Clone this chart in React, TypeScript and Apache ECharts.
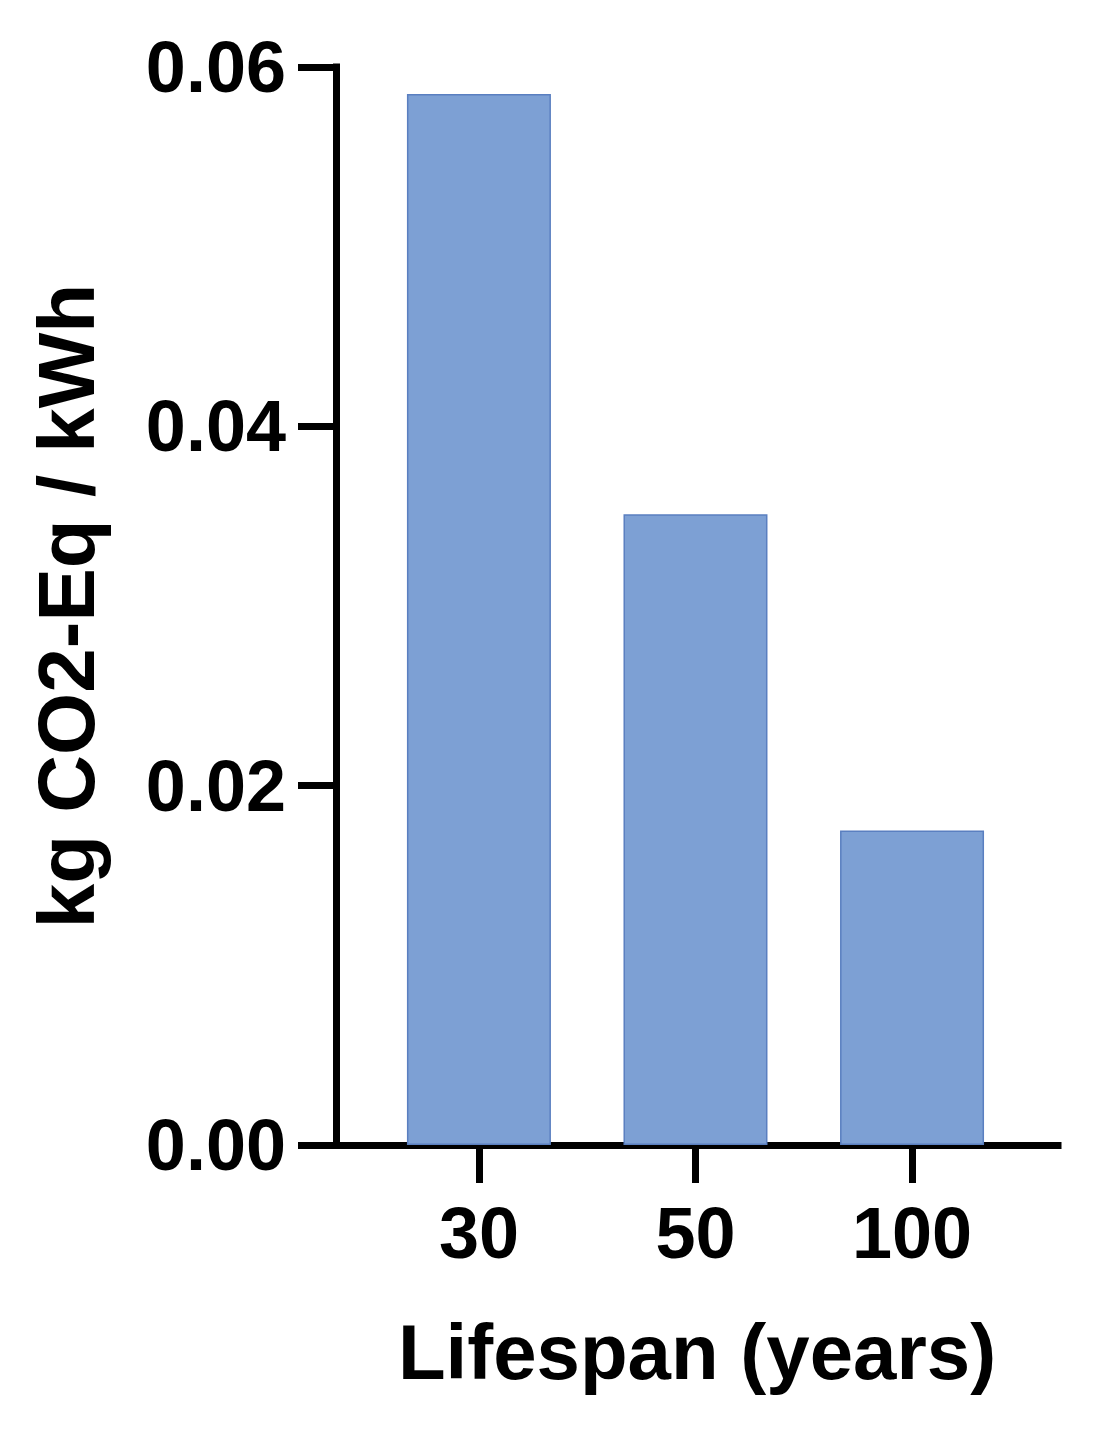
import React, { useEffect, useRef } from "react";
import * as echarts from "echarts";

const categories = ["30", "50", "100"];
const values = [0.0585, 0.0351, 0.0175];
const yTicks = [0, 0.02, 0.04, 0.06];
const xTitle = "Lifespan (years)";
const yTitle = "kg CO2-Eq / kWh";

const FONT = "'Liberation Sans', Arial, sans-serif";

export default function App() {
  const ref = useRef<HTMLDivElement>(null);
  useEffect(() => {
    document.body.style.margin = "0";
    const chart = echarts.init(ref.current!, null, { renderer: "svg" });
    const positions = categories.map((_, i) => i);
    chart.setOption({
      animation: false,
      backgroundColor: "#ffffff",
      grid: { left: 336, top: 67, right: 1098 - 1058, bottom: 1446 - 1145, containLabel: false },
      xAxis: {
        type: "value",
        min: -0.66,
        max: 2.674,
        splitLine: { show: false },
        axisLine: { show: true, onZero: false, lineStyle: { color: "#000", width: 7, cap: "square" } },
        axisTick: { show: true, length: 38, customValues: positions, lineStyle: { color: "#000", width: 7 } },
        axisLabel: {
          customValues: positions,
          formatter: (v: number) => categories[Math.round(v)] ?? "",
          margin: 52,
          fontSize: 72,
          fontWeight: "bold",
          fontFamily: FONT,
          color: "#000",
        },
        name: xTitle,
        nameLocation: "middle",
        nameGap: 168,
        nameTextStyle: { fontSize: 78, fontWeight: "bold", fontFamily: FONT, color: "#000" },
      },
      yAxis: {
        type: "value",
        min: yTicks[0],
        max: yTicks[yTicks.length - 1],
        interval: 0.02,
        splitLine: { show: false },
        axisLine: { show: true, onZero: false, lineStyle: { color: "#000", width: 7, cap: "square" } },
        axisTick: { show: true, length: 38, lineStyle: { color: "#000", width: 7 } },
        axisLabel: {
          formatter: (v: number) => v.toFixed(2),
          margin: 50,
          fontSize: 72,
          fontWeight: "bold",
          fontFamily: FONT,
          color: "#000",
        },
        name: yTitle,
        nameLocation: "middle",
        nameGap: 230,
        nameTextStyle: { fontSize: 80, fontWeight: "bold", fontFamily: FONT, color: "#000" },
      },
      series: [
        {
          type: "bar",
          barWidth: 144,
          data: values.map((v, i) => [positions[i], v]),
          itemStyle: { color: "#7da0d4", borderColor: "#5a7fc0", borderWidth: 1.5 },
        },
      ],
    });
    return () => chart.dispose();
  }, []);
  return <div ref={ref} style={{ width: 1098, height: 1446 }} />;
}
